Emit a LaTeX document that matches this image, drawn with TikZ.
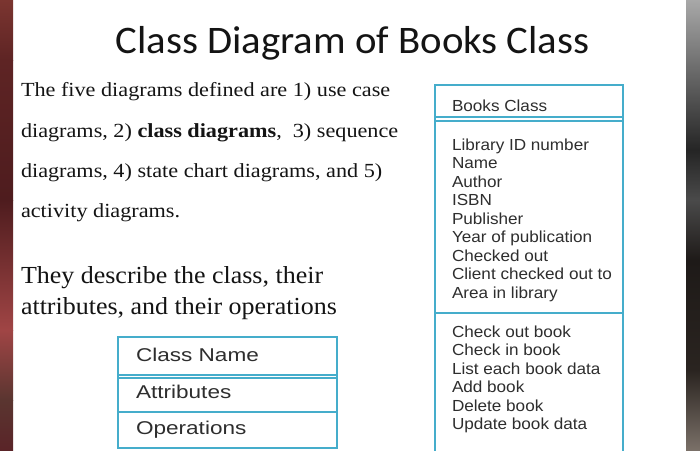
\documentclass[tikz,border=0pt]{standalone}
\usepackage{fontspec}
\setmainfont{Liberation Serif}
\newfontfamily\titlefont{Carlito}
\newfontfamily\boxfont{Liberation Sans}
\usepackage{graphicx}
\definecolor{boxblue}{HTML}{45ADCB}
\definecolor{boxtext}{HTML}{2E2E2E}
\begin{document}
\begin{tikzpicture}[x=1pt,y=-1pt,
  boxline/.style={draw=boxblue, line width=1.4pt},
  txt/.style={anchor=base west, inner sep=0pt, outer sep=0pt},
  para/.style={txt, text=black!92, font=\fontsize{20}{24}\selectfont},
  big/.style={txt, text=black!92, font=\fontsize{24.5}{28}\selectfont},
  btxt/.style={txt, text=boxtext, font=\boxfont\fontsize{16}{18}\selectfont},
  ctxt/.style={txt, text=boxtext, font=\boxfont\fontsize{18.5}{20}\selectfont}]
\useasboundingbox (0,0) rectangle (700,450);
\fill[white] (0,0) rectangle (700,450);
% left strip
\shade[top color={rgb,255:red,123;green,53;blue,48}, bottom color={rgb,255:red,94;green,36;blue,36}] (0,0) rectangle (13,60);
\shade[top color={rgb,255:red,94;green,36;blue,36}, bottom color={rgb,255:red,78;green,28;blue,30}] (0,60) rectangle (13,200);
\shade[top color={rgb,255:red,78;green,28;blue,30}, bottom color={rgb,255:red,160;green,69;blue,69}] (0,200) rectangle (13,330);
\shade[top color={rgb,255:red,160;green,69;blue,69}, bottom color={rgb,255:red,90;green,53;blue,48}] (0,330) rectangle (13,400);
\shade[top color={rgb,255:red,90;green,53;blue,48}, bottom color={rgb,255:red,90;green,36;blue,40}] (0,400) rectangle (13,450);
% right strip
\shade[top color={rgb,255:red,168;green,168;blue,168}, bottom color={rgb,255:red,37;green,37;blue,37}] (686,0) rectangle (700,150);
\shade[top color={rgb,255:red,37;green,37;blue,37}, bottom color={rgb,255:red,74;green,74;blue,74}] (686,150) rectangle (700,200);
\shade[top color={rgb,255:red,74;green,74;blue,74}, bottom color={rgb,255:red,30;green,26;blue,24}] (686,200) rectangle (700,260);
\shade[top color={rgb,255:red,30;green,26;blue,24}, bottom color={rgb,255:red,42;green,36;blue,32}] (686,260) rectangle (700,370);
\shade[top color={rgb,255:red,42;green,36;blue,32}, bottom color={rgb,255:red,122;green,112;blue,104}] (686,370) rectangle (700,450);

% title
\node[anchor=base, inner sep=0pt, font=\titlefont\fontsize{39}{44}\selectfont, text=black!92] (title) at (352.5,53) {\scalebox{1.046}[1]{Class Diagram of Books Class}};

% paragraph
\node[para] (p1) at (21,96) {\scalebox{1.11}[1]{The five diagrams defined are 1) use case}};
\node[para] (p2) at (21,137) {\scalebox{1.11}[1]{diagrams, 2) \textbf{class diagrams},\ \ 3) sequence}};
\node[para] (p3) at (21,177) {\scalebox{1.11}[1]{diagrams, 4) state chart diagrams, and 5)}};
\node[para] (p4) at (21,217) {\scalebox{1.11}[1]{activity diagrams.}};
\node[big] (q1) at (21,283) {\scalebox{1.06}[1]{They describe the class, their}};
\node[big] (q2) at (21,314) {\scalebox{1.06}[1]{attributes, and their operations}};

% small class box
\coordinate (cTL) at (118,337);
\coordinate (cBR) at (337,448);
\draw[boxline] (cTL) rectangle (cBR);
\draw[boxline] (cTL |- 0,375) -- (cBR |- 0,375);
\draw[boxline] (cTL |- 0,378) -- (cBR |- 0,378);
\draw[boxline] (cTL |- 0,412) -- (cBR |- 0,412);
\node[ctxt] (cn) at (136,361) {\scalebox{1.22}[1]{Class Name}};
\node[ctxt] (at) at (136,398) {\scalebox{1.22}[1]{Attributes}};
\node[ctxt] (op) at (136,434) {\scalebox{1.22}[1]{Operations}};

% books class box
\coordinate (bTL) at (435,85);
\coordinate (bBR) at (623,470);
\draw[boxline] (bTL) rectangle (bBR);
\draw[boxline] (bTL |- 0,117) -- (bBR |- 0,117);
\draw[boxline] (bTL |- 0,121) -- (bBR |- 0,121);
\draw[boxline] (bTL |- 0,313) -- (bBR |- 0,313);
\node[btxt] (bh) at (452,111) {\scalebox{1.07}[1]{Books Class}};
\node[btxt] (a1) at (452,150) {\scalebox{1.07}[1]{Library ID number}};
\node[btxt] (a2) at (452,168.5) {\scalebox{1.07}[1]{Name}};
\node[btxt] (a3) at (452,187) {\scalebox{1.07}[1]{Author}};
\node[btxt] (a4) at (452,205.5) {\scalebox{1.07}[1]{ISBN}};
\node[btxt] (a5) at (452,224) {\scalebox{1.07}[1]{Publisher}};
\node[btxt] (a6) at (452,242.5) {\scalebox{1.07}[1]{Year of publication}};
\node[btxt] (a7) at (452,261) {\scalebox{1.07}[1]{Checked out}};
\node[btxt] (a8) at (452,279.5) {\scalebox{1.07}[1]{Client checked out to}};
\node[btxt] (a9) at (452,298) {\scalebox{1.07}[1]{Area in library}};
\node[btxt] (o1) at (452,337) {\scalebox{1.07}[1]{Check out book}};
\node[btxt] (o2) at (452,355.5) {\scalebox{1.07}[1]{Check in book}};
\node[btxt] (o3) at (452,374) {\scalebox{1.07}[1]{List each book data}};
\node[btxt] (o4) at (452,392.5) {\scalebox{1.07}[1]{Add book}};
\node[btxt] (o5) at (452,411) {\scalebox{1.07}[1]{Delete book}};
\node[btxt] (o6) at (452,429.5) {\scalebox{1.07}[1]{Update book data}};
\end{tikzpicture}
\end{document}
